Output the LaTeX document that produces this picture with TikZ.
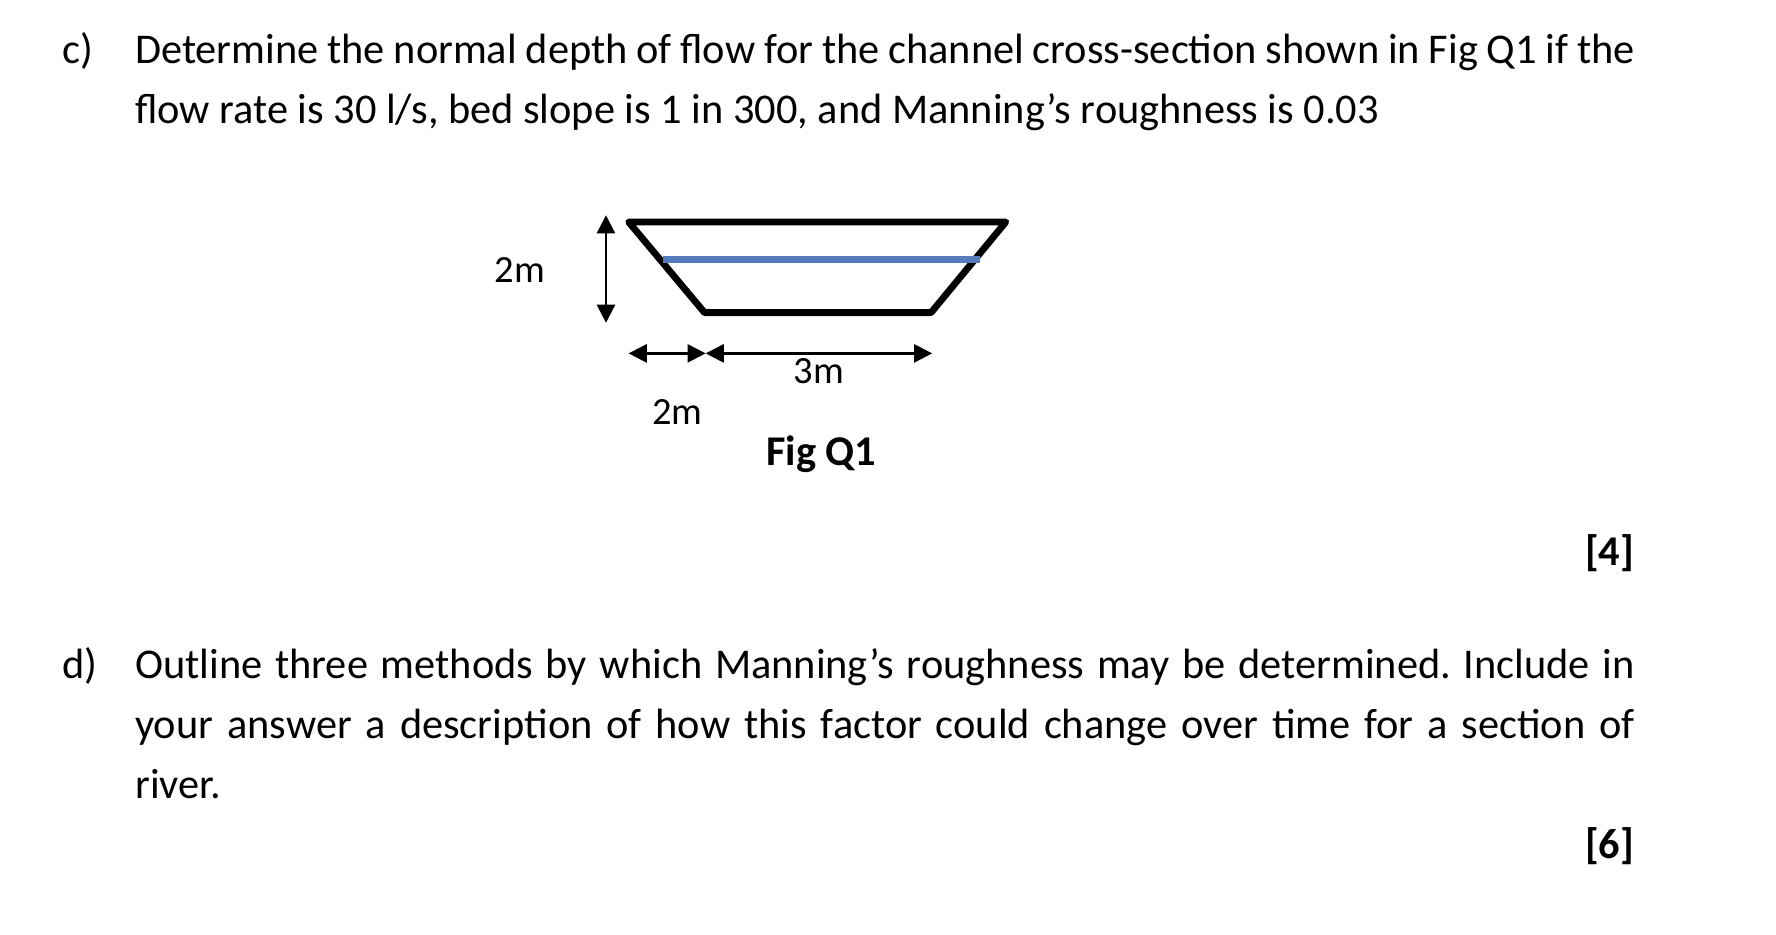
\documentclass[tikz,border=0pt]{standalone}
\usepackage{fontspec}
\setmainfont{Carlito}
\usetikzlibrary{arrows.meta}
\frenchspacing
\begin{document}
\begin{tikzpicture}[x=0.5pt,y=-0.5pt,
  txt/.style={inner sep=0pt,font=\fontsize{18.7}{22}\selectfont},
  sm/.style={inner sep=0pt,font=\fontsize{17}{20}\selectfont},
  lt/.style={txt,anchor=base west},
  dim/.style={line width=1pt,{Triangle[length=8pt,width=8pt]}-{Triangle[length=8pt,width=8pt]}},
  chan/.style={line width=3pt,line join=round,line cap=round}]
\useasboundingbox (0,0) rectangle (1568,825);
\node[lt] (c1) at (55,56) {c)};
\node[lt] (c2) at (119,56) {\hbox to 662pt{Determine the normal depth of flow for the channel cross-section shown in Fig Q1 if the}};
\node[lt] (c3) at (119,109) {flow rate is 30 l/s, bed slope is 1 in 300, and Manning’s roughness is 0.03};
\coordinate (tl) at (555,196); \coordinate (tr) at (888,196);
\coordinate (br) at (822,276); \coordinate (bl) at (622,276);
\draw[chan] (tl) -- (tr) -- (br) -- (bl) -- cycle;
\coordinate (wl) at (585,229); \coordinate (wr) at (865,229);
\draw[line width=2.8pt,color={rgb,255:red,84;green,123;blue,189}] (wl) -- (wr);
\coordinate (va) at (535,190); \coordinate (vb) at (535,285);
\draw[dim] (va) -- (vb);
\coordinate (h1) at (555,312); \coordinate (h2) at (623,312); \coordinate (h3) at (823,312);
\draw[dim] (h1) -- (h2);
\draw[dim] (h2) -- (h3);
\node[sm] (l2m) at (459,238) {2m};
\node[sm] (l3m) at (723,328) {3m};
\node[sm] (b2m) at (598,364) {2m};
\node[txt,font=\fontsize{18.7}{22}\selectfont\bfseries] (fig) at (725,401) {Fig Q1};
\node[txt,anchor=base east,font=\fontsize{18.7}{22}\selectfont\bfseries] (m4) at (1443,499) {[4]};
\node[lt] (d1) at (55,599) {d)};
\node[lt] (d2) at (119,599) {\hbox to 662pt{Outline three methods by which Manning’s roughness may be determined. Include in}};
\node[lt] (d3) at (119,652) {\hbox to 662pt{your answer a description of how this factor could change over time for a section of}};
\node[lt] (d4) at (119,705) {river.};
\node[txt,anchor=base east,font=\fontsize{18.7}{22}\selectfont\bfseries] (m6) at (1443,758) {[6]};
\end{tikzpicture}
\end{document}
